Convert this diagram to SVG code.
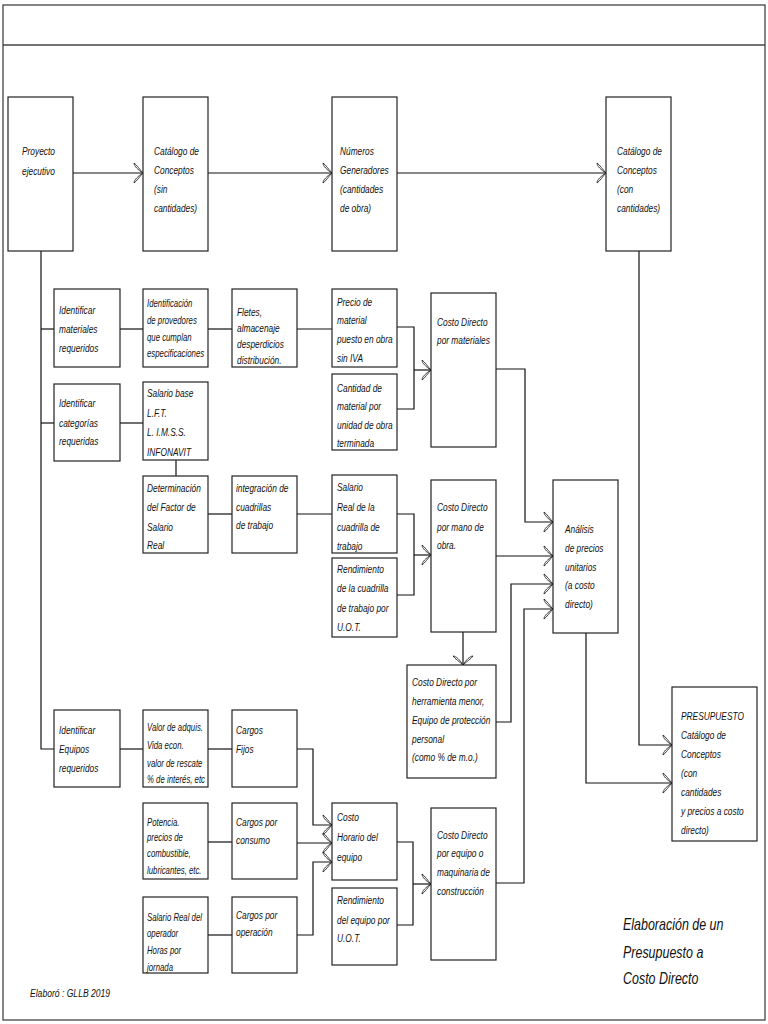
<svg xmlns="http://www.w3.org/2000/svg" width="768" height="1024" viewBox="0 0 768 1024">
<style>
.frame{fill:none;stroke:#444;stroke-width:1.3}
.box{fill:#fff;stroke:#222;stroke-width:1.2}
.c{fill:none;stroke:#111;stroke-width:1.2}
.ca{fill:none;stroke:#111;stroke-width:1.2;marker-end:url(#ar)}
text{font-family:"Liberation Sans",Arial,sans-serif;font-style:italic;font-size:11px;fill:#111}
.s{font-size:10px}
.title{font-size:16px}
.foot{font-size:11px}
</style>
<defs>
<marker id="ar" viewBox="-12 -12 14 24" markerWidth="14" markerHeight="24" refX="0" refY="0" orient="auto" markerUnits="userSpaceOnUse">
<path d="M0,0 C-3,-3 -6,-8 -9,-10 C-9,-7 -5,-3 0,0 Z M0,0 C-3,3 -6,8 -9,10 C-9,7 -5,3 0,0 Z" fill="#fff" stroke="#111" stroke-width="0.8"/>
</marker>
</defs>
<rect width="768" height="1024" fill="#fff"/>
<g id="frame">
<rect class="frame" x="3" y="5" width="762" height="1015"/>
<line class="frame" x1="3" y1="45" x2="765" y2="45"/>
</g>
<g id="connectors">
<path class="ca" d="M73,173 H143"/>
<path class="ca" d="M208,173 H332"/>
<path class="ca" d="M397,173 H606"/>
<path class="c" d="M41,251 V749 H54"/>
<path class="c" d="M41,329 H54"/>
<path class="c" d="M41,423 H54"/>
<path class="c" d="M120,329 H143"/>
<path class="c" d="M208,329 H232"/>
<path class="c" d="M297,329 H332"/>
<path class="c" d="M397,327 H414 V409 H397"/>
<path class="ca" d="M414,370 H431"/>
<path class="c" d="M120,423 H143"/>
<path class="c" d="M176,460 V476"/>
<path class="c" d="M208,514 H232"/>
<path class="c" d="M297,514 H332"/>
<path class="c" d="M397,514 H414 V595 H397"/>
<path class="ca" d="M414,555 H431"/>
<path class="ca" d="M496,369 H525 V522 H553"/>
<path class="ca" d="M496,556 H553"/>
<path class="ca" d="M463,632 V665"/>
<path class="ca" d="M496,722 H511 V584 H553"/>
<path class="ca" d="M496,883 H524 V609 H553"/>
<path class="ca" d="M586,633 V783 H672"/>
<path class="ca" d="M639,251 V745 H672"/>
<path class="c" d="M120,749 H143"/>
<path class="c" d="M208,749 H232"/>
<path class="ca" d="M297,749 H313 V825 H332"/>
<path class="c" d="M208,842 H232"/>
<path class="ca" d="M297,843 H332"/>
<path class="c" d="M208,935 H232"/>
<path class="ca" d="M297,935 H313 V862 H332"/>
<path class="c" d="M397,842 H413 V925 H397"/>
<path class="ca" d="M413,884 H431"/>
</g>
<g id="n1"><rect class="box" x="8" y="97" width="65" height="154"/><text transform="matrix(0.76 0 0 1 5.28 0)"><tspan x="22" y="155">Proyecto</tspan><tspan x="22" y="175">ejecutivo</tspan></text></g>
<g id="n2"><rect class="box" x="143" y="97" width="65" height="154"/><text transform="matrix(0.76 0 0 1 36.96 0)"><tspan x="154" y="155">Catálogo de</tspan><tspan x="154" y="174">Conceptos</tspan><tspan x="154" y="193">(sin</tspan><tspan x="154" y="212">cantidades)</tspan></text></g>
<g id="n3"><rect class="box" x="332" y="97" width="65" height="154"/><text transform="matrix(0.76 0 0 1 81.6 0)"><tspan x="340" y="155">Números</tspan><tspan x="340" y="174">Generadores</tspan><tspan x="340" y="193">(cantidades</tspan><tspan x="340" y="212">de obra)</tspan></text></g>
<g id="n4"><rect class="box" x="606" y="97" width="65" height="154"/><text transform="matrix(0.76 0 0 1 148.08 0)"><tspan x="617" y="155">Catálogo de</tspan><tspan x="617" y="174">Conceptos</tspan><tspan x="617" y="193">(con</tspan><tspan x="617" y="212">cantidades)</tspan></text></g>
<g id="n5"><rect class="box" x="54" y="289" width="66" height="78"/><text transform="matrix(0.76 0 0 1 14.16 0)"><tspan x="59" y="314">Identificar</tspan><tspan x="59" y="333">materiales</tspan><tspan x="59" y="352">requeridos</tspan></text></g>
<g id="n6"><rect class="box" x="143" y="289" width="65" height="78"/><text class="s" transform="matrix(0.78 0 0 1 32.34 0)"><tspan x="147" y="307">Identificación</tspan><tspan x="147" y="324">de provedores</tspan><tspan x="147" y="341">que cumplan</tspan><tspan x="147" y="357">especificaciones</tspan></text></g>
<g id="n7"><rect class="box" x="232" y="289" width="65" height="78"/><text transform="matrix(0.76 0 0 1 56.88 0)"><tspan x="237" y="316">Fletes,</tspan><tspan x="237" y="332">almacenaje</tspan><tspan x="237" y="348">desperdicios</tspan><tspan x="237" y="364">distribución.</tspan></text></g>
<g id="n8"><rect class="box" x="332" y="289" width="65" height="78"/><text transform="matrix(0.76 0 0 1 80.88 0)"><tspan x="337" y="306">Precio de</tspan><tspan x="337" y="324">material</tspan><tspan x="337" y="343">puesto en obra</tspan><tspan x="337" y="362">sin IVA</tspan></text></g>
<g id="n9"><rect class="box" x="332" y="374" width="65" height="76"/><text transform="matrix(0.76 0 0 1 80.88 0)"><tspan x="337" y="392">Cantidad de</tspan><tspan x="337" y="410">material por</tspan><tspan x="337" y="429">unidad de obra</tspan><tspan x="337" y="447">terminada</tspan></text></g>
<g id="n10"><rect class="box" x="431" y="293" width="65" height="154"/><text transform="matrix(0.76 0 0 1 104.88 0)"><tspan x="437" y="326">Costo Directo</tspan><tspan x="437" y="344">por materiales</tspan></text></g>
<g id="n11"><rect class="box" x="54" y="384" width="66" height="77"/><text transform="matrix(0.76 0 0 1 14.16 0)"><tspan x="59" y="407">Identificar</tspan><tspan x="59" y="427">categorías</tspan><tspan x="59" y="445">requeridas</tspan></text></g>
<g id="n12"><rect class="box" x="143" y="382" width="65" height="78"/><text transform="matrix(0.76 0 0 1 35.28 0)"><tspan x="147" y="397">Salario base</tspan><tspan x="147" y="417">L.F.T.</tspan><tspan x="147" y="436">L. I.M.S.S.</tspan><tspan x="147" y="456">INFONAVIT</tspan></text></g>
<g id="n13"><rect class="box" x="143" y="476" width="65" height="77"/><text transform="matrix(0.76 0 0 1 35.28 0)"><tspan x="147" y="492">Determinación</tspan><tspan x="147" y="511">del Factor de</tspan><tspan x="147" y="531">Salario</tspan><tspan x="147" y="549">Real</tspan></text></g>
<g id="n14"><rect class="box" x="232" y="476" width="65" height="77"/><text transform="matrix(0.76 0 0 1 56.64 0)"><tspan x="236" y="492">integración de</tspan><tspan x="236" y="511">cuadrillas</tspan><tspan x="236" y="529">de trabajo</tspan></text></g>
<g id="n15"><rect class="box" x="332" y="475" width="65" height="78"/><text transform="matrix(0.76 0 0 1 80.88 0)"><tspan x="337" y="491">Salario</tspan><tspan x="337" y="511">Real de la</tspan><tspan x="337" y="531">cuadrilla de</tspan><tspan x="337" y="550">trabajo</tspan></text></g>
<g id="n16"><rect class="box" x="332" y="558" width="65" height="79"/><text transform="matrix(0.76 0 0 1 80.88 0)"><tspan x="337" y="573">Rendimiento</tspan><tspan x="337" y="592">de la cuadrilla</tspan><tspan x="337" y="612">de trabajo por</tspan><tspan x="337" y="631">U.O.T.</tspan></text></g>
<g id="n17"><rect class="box" x="431" y="480" width="65" height="152"/><text transform="matrix(0.76 0 0 1 104.88 0)"><tspan x="437" y="511">Costo Directo</tspan><tspan x="437" y="531">por mano de</tspan><tspan x="437" y="549">obra.</tspan></text></g>
<g id="n18"><rect class="box" x="553" y="480" width="65" height="153"/><text transform="matrix(0.76 0 0 1 135.6 0)"><tspan x="565" y="533">Análisis</tspan><tspan x="565" y="552">de precios</tspan><tspan x="565" y="571">unitarios</tspan><tspan x="565" y="589">(a costo</tspan><tspan x="565" y="608">directo)</tspan></text></g>
<g id="n19"><rect class="box" x="407" y="665" width="89" height="113"/><text transform="matrix(0.76 0 0 1 98.88 0)"><tspan x="412" y="686">Costo Directo por</tspan><tspan x="412" y="705">herramienta menor,</tspan><tspan x="412" y="724">Equipo de protección</tspan><tspan x="412" y="743">personal</tspan><tspan x="412" y="761">(como % de m.o.)</tspan></text></g>
<g id="n20"><rect class="box" x="54" y="710" width="66" height="77"/><text transform="matrix(0.76 0 0 1 14.16 0)"><tspan x="59" y="734">Identificar</tspan><tspan x="59" y="753">Equipos</tspan><tspan x="59" y="772">requeridos</tspan></text></g>
<g id="n21"><rect class="box" x="143" y="710" width="65" height="77"/><text class="s" transform="matrix(0.78 0 0 1 32.34 0)"><tspan x="147" y="731">Valor de adquis.</tspan><tspan x="147" y="749">Vida econ.</tspan><tspan x="147" y="767">valor de rescate</tspan><tspan x="147" y="783">% de interés, etc</tspan></text></g>
<g id="n22"><rect class="box" x="232" y="710" width="65" height="77"/><text transform="matrix(0.76 0 0 1 56.64 0)"><tspan x="236" y="734">Cargos</tspan><tspan x="236" y="753">Fijos</tspan></text></g>
<g id="n23"><rect class="box" x="143" y="803" width="65" height="76"/><text class="s" transform="matrix(0.78 0 0 1 32.34 0)"><tspan x="147" y="826">Potencia.</tspan><tspan x="147" y="841">precios de</tspan><tspan x="147" y="857">combustible,</tspan><tspan x="147" y="874">lubricantes, etc.</tspan></text></g>
<g id="n24"><rect class="box" x="232" y="803" width="65" height="76"/><text transform="matrix(0.76 0 0 1 56.64 0)"><tspan x="236" y="826">Cargos por</tspan><tspan x="236" y="844">consumo</tspan></text></g>
<g id="n25"><rect class="box" x="143" y="897" width="65" height="76"/><text class="s" transform="matrix(0.78 0 0 1 32.34 0)"><tspan x="147" y="921">Salario Real del</tspan><tspan x="147" y="937">operador</tspan><tspan x="147" y="954">Horas por</tspan><tspan x="147" y="971">jornada</tspan></text></g>
<g id="n26"><rect class="box" x="232" y="897" width="65" height="76"/><text transform="matrix(0.76 0 0 1 56.64 0)"><tspan x="236" y="919">Cargos por</tspan><tspan x="236" y="936">operación</tspan></text></g>
<g id="n27"><rect class="box" x="332" y="803" width="65" height="77"/><text transform="matrix(0.76 0 0 1 80.88 0)"><tspan x="337" y="821">Costo</tspan><tspan x="337" y="841">Horario del</tspan><tspan x="337" y="861">equipo</tspan></text></g>
<g id="n28"><rect class="box" x="332" y="888" width="65" height="77"/><text transform="matrix(0.76 0 0 1 80.88 0)"><tspan x="337" y="904">Rendimiento</tspan><tspan x="337" y="924">del equipo por</tspan><tspan x="337" y="942">U.O.T.</tspan></text></g>
<g id="n29"><rect class="box" x="431" y="808" width="65" height="152"/><text transform="matrix(0.76 0 0 1 104.88 0)"><tspan x="437" y="839">Costo Directo</tspan><tspan x="437" y="857">por equipo o</tspan><tspan x="437" y="876">maquinaria de</tspan><tspan x="437" y="895">construcción</tspan></text></g>
<g id="n30"><rect class="box" x="672" y="687" width="85" height="154"/><text transform="matrix(0.76 0 0 1 163.44 0)"><tspan x="681" y="720">PRESUPUESTO</tspan><tspan x="681" y="739">Catálogo de</tspan><tspan x="681" y="758">Conceptos</tspan><tspan x="681" y="777">(con</tspan><tspan x="681" y="796">cantidades</tspan><tspan x="681" y="815">y precios a costo</tspan><tspan x="681" y="834">directo)</tspan></text></g>
<g id="title"><text class="title" transform="matrix(0.78 0 0 1 137.06 0)"><tspan x="623" y="930">Elaboración de un</tspan><tspan x="623" y="958">Presupuesto a</tspan><tspan x="623" y="984">Costo Directo</tspan></text></g>
<g id="footer"><text class="foot" transform="matrix(0.78 0 0 1 6.6 0)" x="30" y="997">Elaboró : GLLB 2019</text></g>
</svg>
